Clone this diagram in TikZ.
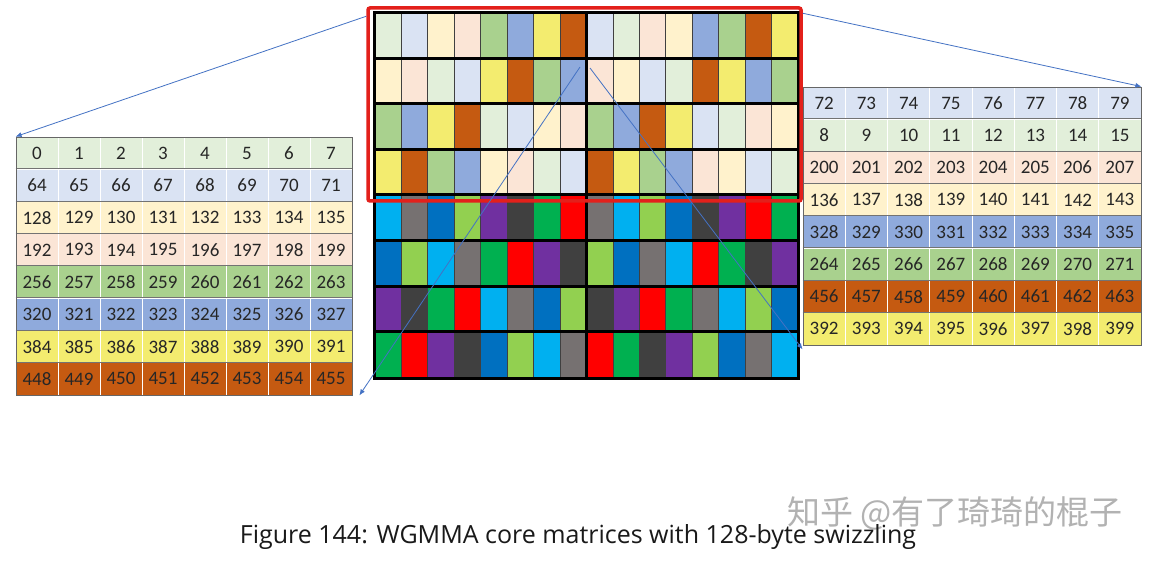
\documentclass[tikz,border=0pt]{standalone}
\usepackage{fontspec}
\setmainfont{Carlito}
\newfontfamily\capfont{Open Sans}
\newfontfamily\cjkfont{Noto Sans CJK SC}
\usepackage{tikz}
\usetikzlibrary{arrows.meta}

\definecolor{lgr}{HTML}{E2EFDA}
\definecolor{lbl}{HTML}{DAE3F3}
\definecolor{lye}{HTML}{FFF2CC}
\definecolor{lpk}{HTML}{FBE5D6}
\definecolor{mgr}{HTML}{A9D18E}
\definecolor{mbl}{HTML}{8FAADC}
\definecolor{mye}{HTML}{F3EC6F}
\definecolor{brn}{HTML}{C55A11}
\definecolor{cyn}{HTML}{00B0F0}
\definecolor{gry}{HTML}{767171}
\definecolor{dbl}{HTML}{0070C0}
\definecolor{lim}{HTML}{92D050}
\definecolor{pur}{HTML}{7030A0}
\definecolor{dgy}{HTML}{404040}
\definecolor{grn}{HTML}{00B050}
\definecolor{rd}{HTML}{FF0000}
\definecolor{linkblue}{HTML}{4472C4}
\definecolor{selred}{HTML}{E3201B}

\begin{document}
\begin{tikzpicture}[
  x=1pt, y=-1pt,
  cell/.style={draw=black!75, line width=0.8pt, inner sep=0pt,
    minimum width=26.44pt, minimum height=45.6pt},
  tcell/.style={draw=white, line width=1pt, inner sep=0pt,
    minimum width=42pt, minimum height=32.25pt,
    font=\fontsize{19}{19}\selectfont, text=black!85},
  frame/.style={draw=black!60, line width=0.8pt, inner sep=0pt},
  rowline/.style={draw=black!55, line width=0.7pt},
  selbox/.style={draw=selred, line width=3.5pt, rounded corners=2pt, inner sep=0pt},
  link/.style={->, draw=linkblue, line width=0.8pt},
  >={Latex[length=6pt,width=5pt]}]
  \path[fill=white] (0,0) rectangle (1156,561);

  % swizzled core matrices
  \foreach \r/\row in {
    0/{lgr,lbl,lye,lpk,mgr,mbl,mye,brn,lbl,lgr,lpk,lye,mbl,mgr,brn,mye},
    1/{lye,lpk,lgr,lbl,mye,brn,mgr,mbl,lpk,lye,lbl,lgr,brn,mye,mbl,mgr},
    2/{mgr,mbl,mye,brn,lgr,lbl,lye,lpk,mgr,mbl,brn,mye,lbl,lgr,lpk,lye},
    3/{mye,brn,mgr,mbl,lye,lpk,lgr,lbl,brn,mye,mgr,mbl,lpk,lye,lbl,lgr},
    4/{cyn,gry,dbl,lim,pur,dgy,grn,rd,gry,cyn,lim,dbl,dgy,pur,rd,grn},
    5/{dbl,lim,cyn,gry,grn,rd,pur,dgy,lim,dbl,gry,cyn,rd,grn,dgy,pur},
    6/{pur,dgy,grn,rd,cyn,gry,dbl,lim,dgy,pur,rd,grn,gry,cyn,lim,dbl},
    7/{grn,rd,pur,dgy,dbl,lim,cyn,gry,rd,grn,dgy,pur,lim,dbl,gry,cyn}}
    \foreach \cc [count=\c from 0] in \row
      \node[cell, fill=\cc] (g-\r-\c) at ({375+26.44*(\c+0.5)}, {13+45.6*(\r+0.5)}) {};
  \foreach \r in {0,...,7}
    \draw[line width=3pt] (g-\r-0.north west) -- (g-\r-15.north east);
  \draw[line width=3pt] (g-0-8.north west) -- (g-7-8.south west);
  \draw[line width=3pt] (g-0-0.north west) rectangle (g-7-15.south east);
  \node[selbox, minimum width=433pt, minimum height=193pt] (sel) at (584.5,104.5) {};

  % left table
  \foreach \r/\fc in {0/lgr,1/lbl,2/lye,3/lpk,4/mgr,5/mbl,6/mye,7/brn}
    \foreach \c in {0,...,7}
      \node[tcell, fill=\fc] (l-\r-\c) at ({16+42*(\c+0.5)}, {137+32.25*(\r+0.5)})
        {\pgfmathparse{int(64*\r+\c)}\pgfmathresult};
  \foreach \r in {1,...,7}
    \draw[rowline] (l-\r-0.north west) -- (l-\r-7.north east);
  \node[frame, minimum width=336pt, minimum height=258pt] (ltab) at (184,266) {};

  % right table
  \foreach \r/\fc/\b in {0/lbl/72,1/lgr/8,2/lpk/200,3/lye/136,4/mbl/328,5/mgr/264,6/brn/456,7/mye/392}
    \foreach \c in {0,...,7}
      \node[tcell, fill=\fc, minimum width=42.25pt] (r-\r-\c) at ({803+42.25*(\c+0.5)}, {87+32.25*(\r+0.5)})
        {\pgfmathparse{int(\b+\c)}\pgfmathresult};
  \foreach \r in {1,...,7}
    \draw[rowline] (r-\r-0.north west) -- (r-\r-7.north east);
  \node[frame, minimum width=338pt, minimum height=258pt] (rtab) at (972,216) {};

  % arrows
  \coordinate (lsrc) at (580,67);
  \coordinate (rsrc) at (590,68);
  \draw[link] ([yshift=-10pt]sel.north west) -- (ltab.north west);
  \draw[link] ([yshift=-7pt]sel.north east) -- (rtab.north east);
  \draw[link] (lsrc) -- ([xshift=7pt]ltab.south east);
  \draw[link] (rsrc) -- ([yshift=-4pt]rtab.south west);

  \node[font=\cjkfont\fontsize{33}{33}\selectfont, text=black!30] (wm) at (955,513) {知乎 @有了琦琦的棍子};
  \node[font=\capfont\fontsize{25}{25}\selectfont, text=black!90] (cap) at (578,537)
    {Figure 144: WGMMA core matrices with 128-byte swizzling};
\end{tikzpicture}
\end{document}
